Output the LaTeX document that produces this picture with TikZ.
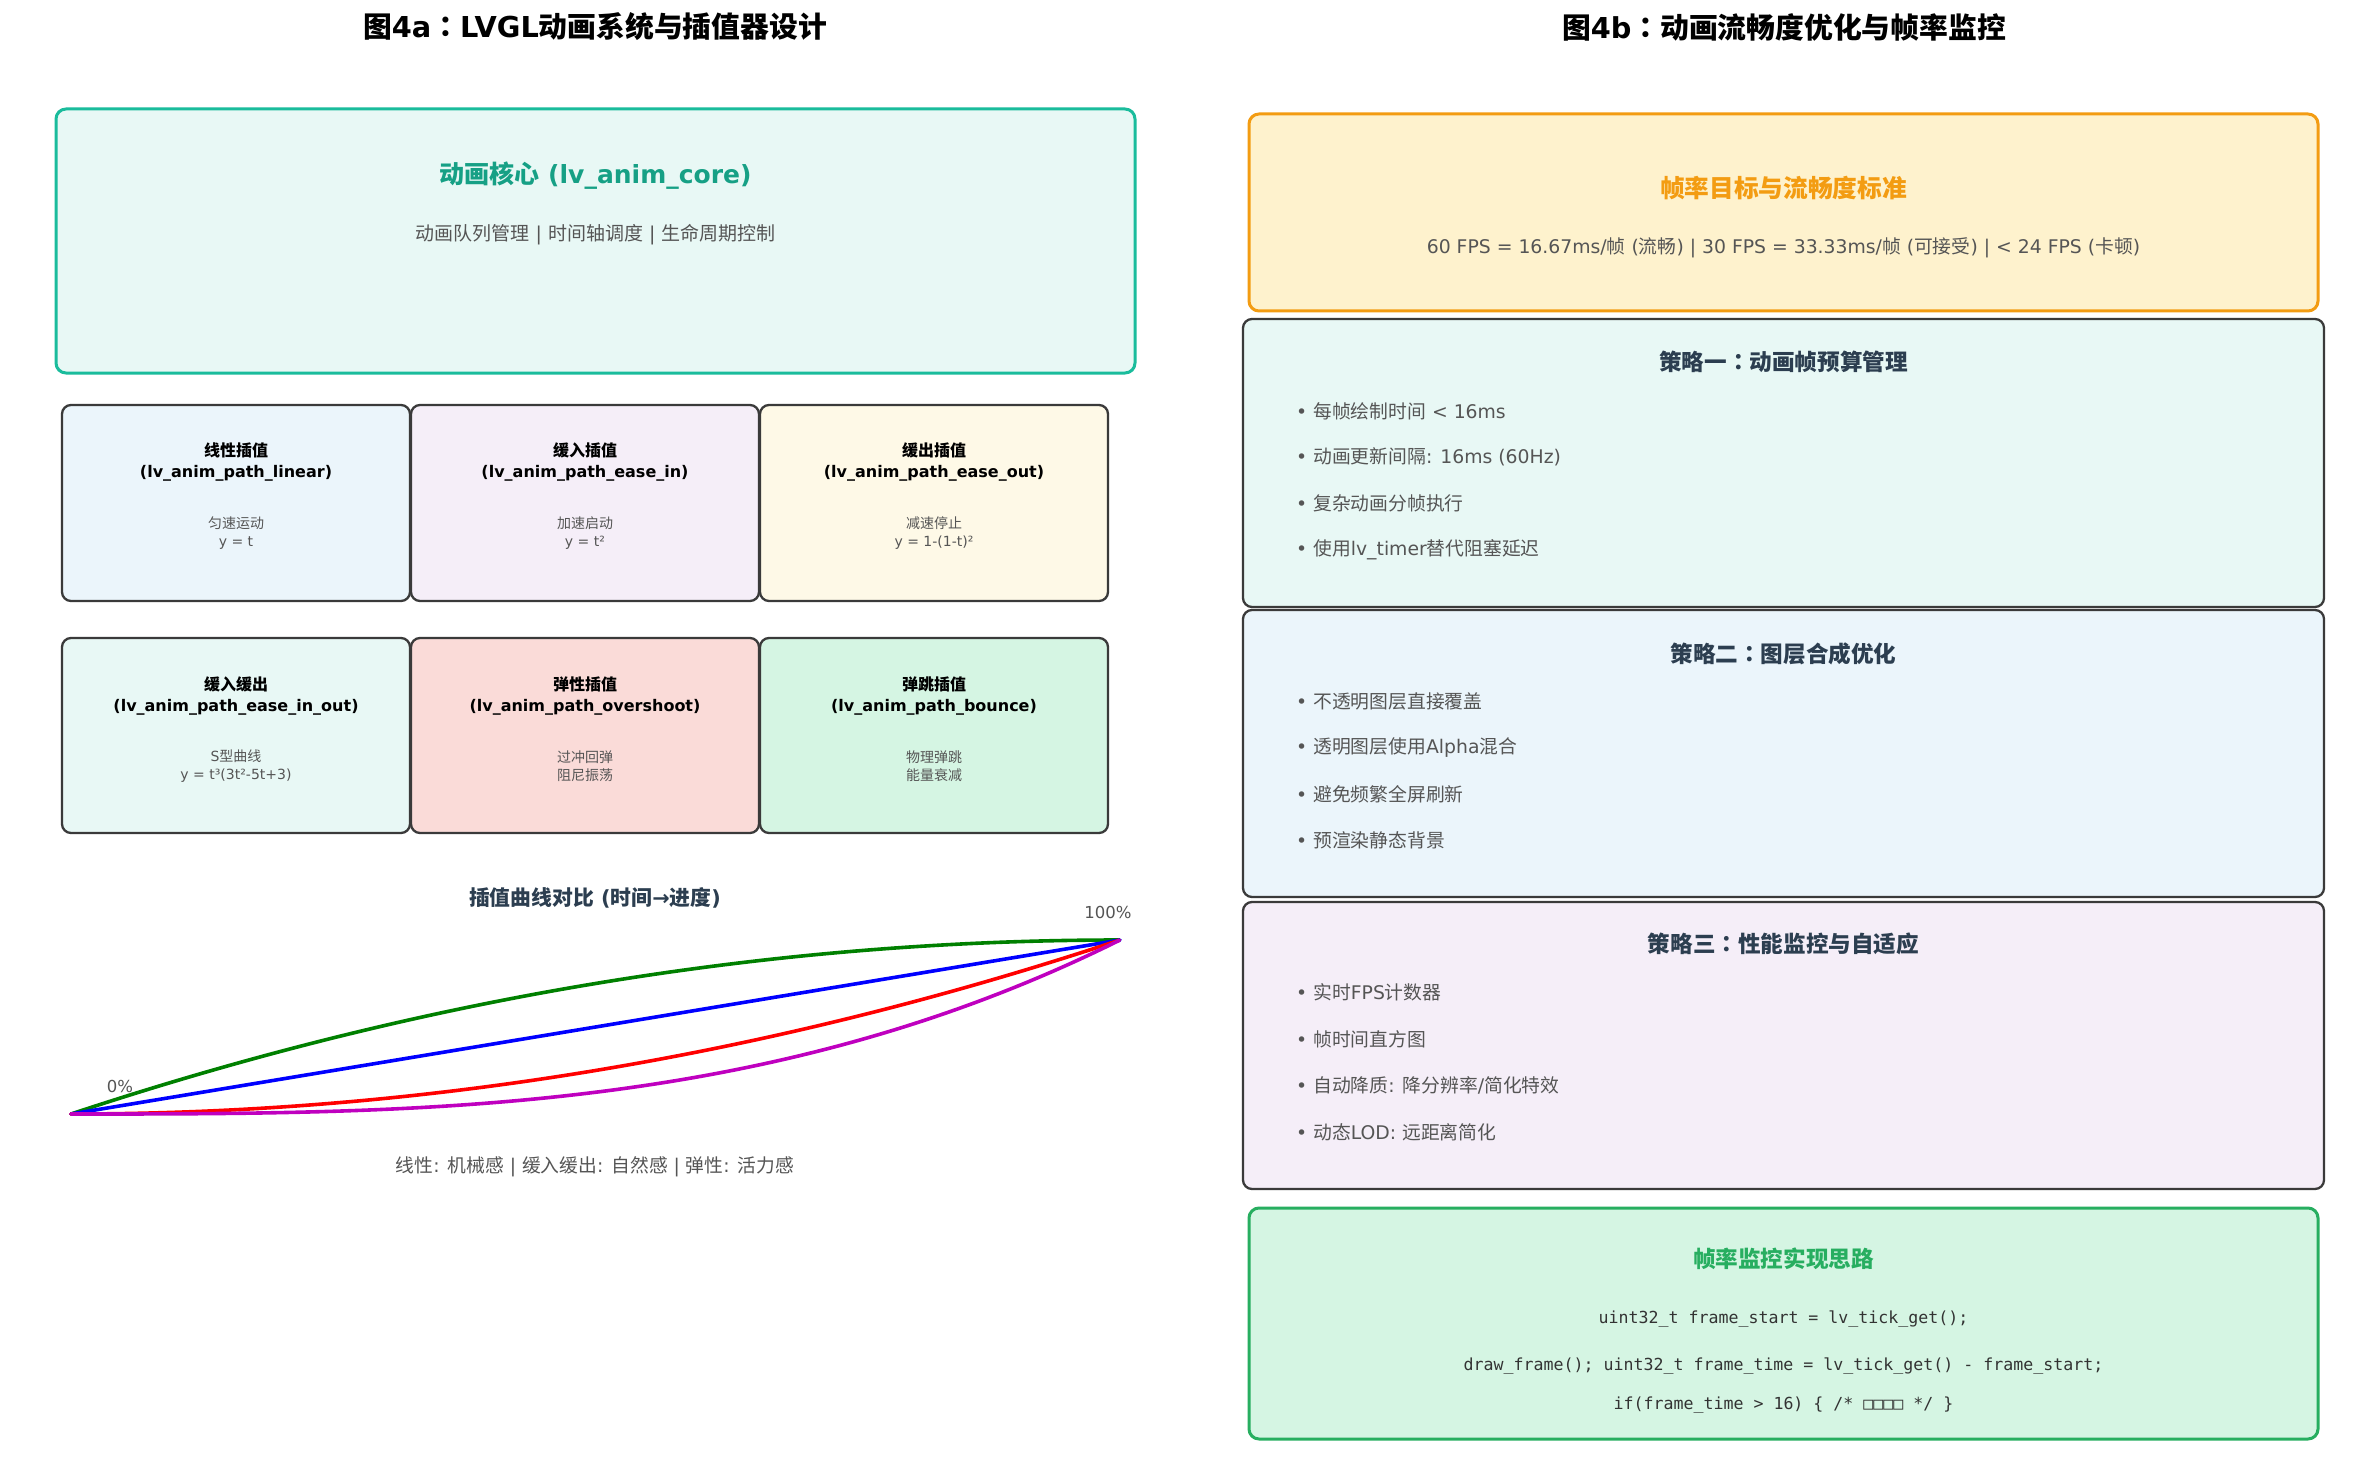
\documentclass[tikz,border=0pt]{standalone}
\usepackage{fontspec}
\setmainfont{DejaVu Sans}
\setmonofont{DejaVu Sans Mono}
\newfontfamily\cjkfont{Noto Sans CJK SC}
\newfontfamily\cjkcolon{Noto Sans CJK TC}
\XeTeXinterchartokenstate=1
\newXeTeXintercharclass\cjkclass
\newXeTeXintercharclass\colclass
\newcount\cjkc
\cjkc="4E00 \loop \XeTeXcharclass\cjkc=\cjkclass \ifnum\cjkc<"9FFF \advance\cjkc 1 \repeat
\cjkc="3000 \loop \XeTeXcharclass\cjkc=\cjkclass \ifnum\cjkc<"303F \advance\cjkc 1 \repeat
\cjkc="FF00 \loop \XeTeXcharclass\cjkc=\cjkclass \ifnum\cjkc<"FFEF \advance\cjkc 1 \repeat
\XeTeXcharclass"FF1A=\colclass
\XeTeXinterchartoks 0 \cjkclass={\begingroup\cjkfont}
\XeTeXinterchartoks 4095 \cjkclass={\begingroup\cjkfont}
\XeTeXinterchartoks \cjkclass 0={\endgroup}
\XeTeXinterchartoks \cjkclass 4095={\endgroup}
\XeTeXinterchartoks 0 \colclass={\begingroup\cjkcolon}
\XeTeXinterchartoks 4095 \colclass={\begingroup\cjkcolon}
\XeTeXinterchartoks \colclass 0={\endgroup}
\XeTeXinterchartoks \colclass 4095={\endgroup}
\XeTeXinterchartoks \cjkclass \colclass={\endgroup\begingroup\cjkcolon}
\XeTeXinterchartoks \colclass \cjkclass={\endgroup\begingroup\cjkfont}
\usetikzlibrary{positioning}
\definecolor{coreFill}{HTML}{E8F8F5}
\definecolor{coreLine}{HTML}{1ABC9C}
\definecolor{coreTitle}{HTML}{16A085}
\definecolor{subGray}{HTML}{555555}
\definecolor{boxLine}{HTML}{3A3A3A}
\definecolor{darkTitle}{HTML}{2C3E50}
\definecolor{fpsFill}{HTML}{FEF2CD}
\definecolor{fpsLine}{HTML}{F39C12}
\definecolor{sOneFill}{HTML}{E8F8F5}
\definecolor{sTwoFill}{HTML}{EBF5FB}
\definecolor{sThreeFill}{HTML}{F5EEF8}
\definecolor{monFill}{HTML}{D5F5E3}
\definecolor{monLine}{HTML}{27AE60}
\definecolor{iA}{HTML}{EBF5FB}
\definecolor{iB}{HTML}{F5EEF8}
\definecolor{iC}{HTML}{FEF9E7}
\definecolor{iD}{HTML}{E8F8F5}
\definecolor{iE}{HTML}{FADBD8}
\definecolor{iF}{HTML}{D5F5E3}
\definecolor{codeGray}{HTML}{333333}
\definecolor{curveMag}{RGB}{191,0,191}
\definecolor{curveGreen}{RGB}{0,128,0}
\newcommand\fsz[2]{\fontsize{#1}{#2}\selectfont}
\tikzset{
  bigbox/.style={rounded corners=10pt, inner sep=0pt, line width=3pt},
  graybox/.style={draw=boxLine, rounded corners=9pt, inner sep=0pt, line width=2.3pt},
  ibox/.style={graybox, minimum width=348pt},
  maintitle/.style={font=\bfseries\fsz{28.8}{34}, text=black},
  ititle/.style={font=\bfseries\fsz{16}{21}, align=center, text=black, inner sep=0pt},
  isub/.style={font=\fsz{14}{18}, align=center, text=subGray, inner sep=0pt},
  stitle/.style={font=\bfseries\fsz{22.6}{26}, text=darkTitle, inner sep=0pt},
  bullet/.style={font=\fsz{18.8}{22}, text=subGray, anchor=west, inner sep=0pt},
  codeline/.style={font=\ttfamily\fsz{16.6}{20}, text=codeGray, inner sep=0pt},
  curve/.style={line width=3.6pt, line cap=round, line join=round},
}
\begin{document}
\begin{tikzpicture}[x=1pt,y=-1pt]
\fill[white] (0,0) rectangle (2380,1479);
\useasboundingbox (0,0) rectangle (2380,1479);

% titles
\node[maintitle] (ta) at (595,27) {图4a：LVGL动画系统与插值器设计};
\node[maintitle] (tb) at (1784,27) {图4b：动画流畅度优化与帧率监控};

% core box
\node[bigbox, draw=coreLine, fill=coreFill, minimum width=1079pt, minimum height=264pt] (core) at (595.5,241) {};
\node[font=\bfseries\fsz{25}{30}, text=coreTitle, inner sep=0pt] (coret) at (595.5,176) {动画核心 (lv\_anim\_core)};
\node[font=\fsz{19}{24}, text=subGray, inner sep=0pt] (cores) at (595.5,235) {动画队列管理 | 时间轴调度 | 生命周期控制};

% interpolator boxes row 1
\node[ibox, fill=iA, minimum height=196pt] (linear) at (236,503) {};
\node[ibox, fill=iB, minimum height=196pt] (easein) at (585,503) {};
\node[ibox, fill=iC, minimum height=196pt] (easeout) at (934,503) {};
\node[ititle] (linearT) at (236,462) {线性插值\\(lv\_anim\_path\_linear)};
\node[ititle] (easeinT) at (585,462) {缓入插值\\(lv\_anim\_path\_ease\_in)};
\node[ititle] (easeoutT) at (934,462) {缓出插值\\(lv\_anim\_path\_ease\_out)};
\node[isub] (linearS) at (236,533) {匀速运动\\y = t};
\node[isub] (easeinS) at (585,533) {加速启动\\y = t²};
\node[isub] (easeoutS) at (934,533) {减速停止\\y = 1-(1-t)²};

% row 2
\node[ibox, fill=iD, minimum height=195pt] (inout) at (236,735.5) {};
\node[ibox, fill=iE, minimum height=195pt] (over) at (585,735.5) {};
\node[ibox, fill=iF, minimum height=195pt] (bounce) at (934,735.5) {};
\node[ititle] (inoutT) at (236,696) {缓入缓出\\(lv\_anim\_path\_ease\_in\_out)};
\node[ititle] (overT) at (585,696) {弹性插值\\(lv\_anim\_path\_overshoot)};
\node[ititle] (bounceT) at (934,696) {弹跳插值\\(lv\_anim\_path\_bounce)};
\node[isub] (inoutS) at (236,766) {S型曲线\\y = t³(3t²-5t+3)};
\node[isub] (overS) at (585,766) {过冲回弹\\阻尼振荡};
\node[isub] (bounceS) at (934,766) {物理弹跳\\能量衰减};

% chart
\node[font=\bfseries\fsz{20.8}{25}, text=darkTitle, inner sep=0pt] (chartT) at (595,898) {插值曲线对比 (时间→进度)};
\node[font=\fsz{16.5}{20}, text=subGray, inner sep=0pt] (hundred) at (1108,912) {100\%};
\node[font=\fsz{16.5}{20}, text=subGray, inner sep=0pt] (zero) at (120,1086) {0\%};
\coordinate (c0) at (71,1114);
\coordinate (c1) at (1120,940);
\draw[curve, curveGreen] plot[domain=0:1, samples=80] ({71+1049*\x},{1114-174*(1-(1-\x)*(1-\x))});
\draw[curve, blue] (c0) -- (c1);
\draw[curve, red] plot[domain=0:1, samples=80] ({71+1049*\x},{1114-174*\x*\x});
\draw[curve, curveMag] plot[domain=0:1, samples=80] ({71+1049*\x},{1114-174*\x*\x*\x});
\node[font=\fsz{18.75}{23}, text=subGray, inner sep=0pt] (caption) at (595,1167) {线性: 机械感 | 缓入缓出: 自然感 | 弹性: 活力感};

% right side
\node[bigbox, draw=fpsLine, fill=fpsFill, minimum width=1069pt, minimum height=197pt] (fps) at (1783.5,212.5) {};
\node[font=\bfseries\fsz{24.7}{29}, text=fpsLine, inner sep=0pt] (fpsT) at (1783.5,188) {帧率目标与流畅度标准};
\node[font=\fsz{18.8}{22}, text=subGray, inner sep=0pt] (fpsS) at (1783.5,248) {60 FPS = 16.67ms/帧 (流畅) | 30 FPS = 33.33ms/帧 (可接受) | < 24 FPS (卡顿)};

\node[graybox, fill=sOneFill, minimum width=1081pt, minimum height=288pt] (s1) at (1783.5,463) {};
\node[stitle] (s1T) at (1783.5,362) {策略一：动画帧预算管理};
\node[bullet] (s1a) at (1296,411) {• 每帧绘制时间 < 16ms};
\node[bullet] (s1b) at (1296,457) {• 动画更新间隔: 16ms (60Hz)};
\node[bullet] (s1c) at (1296,503) {• 复杂动画分帧执行};
\node[bullet] (s1d) at (1296,550) {• 使用lv\_timer替代阻塞延迟};

\node[graybox, fill=sTwoFill, minimum width=1081pt, minimum height=287pt] (s2) at (1783.5,753.5) {};
\node[stitle] (s2T) at (1783.5,654) {策略二：图层合成优化};
\node[bullet] (s2a) at (1296,701) {• 不透明图层直接覆盖};
\node[bullet] (s2b) at (1296,748) {• 透明图层使用Alpha混合};
\node[bullet] (s2c) at (1296,794) {• 避免频繁全屏刷新};
\node[bullet] (s2d) at (1296,840) {• 预渲染静态背景};

\node[graybox, fill=sThreeFill, minimum width=1081pt, minimum height=287pt] (s3) at (1783.5,1045.5) {};
\node[stitle] (s3T) at (1783.5,944) {策略三：性能监控与自适应};
\node[bullet] (s3a) at (1296,992) {• 实时FPS计数器};
\node[bullet] (s3b) at (1296,1039) {• 帧时间直方图};
\node[bullet] (s3c) at (1296,1085) {• 自动降质: 降分辨率/简化特效};
\node[bullet] (s3d) at (1296,1132) {• 动态LOD: 远距离简化};

\node[bigbox, draw=monLine, fill=monFill, minimum width=1069pt, minimum height=231pt] (mon) at (1783.5,1323.5) {};
\node[font=\bfseries\fsz{22.6}{27}, text=monLine, inner sep=0pt] (monT) at (1783.5,1259) {帧率监控实现思路};
\node[codeline] (code1) at (1783.5,1319) {uint32\_t frame\_start = lv\_tick\_get();};
\node[codeline] (code2) at (1783.5,1366) {draw\_frame(); uint32\_t frame\_time = lv\_tick\_get() - frame\_start;};
\node[codeline] (code3) at (1783.5,1405) {if(frame\_time > 16) \{ /* □□□□ */ \}};
\end{tikzpicture}
\end{document}
